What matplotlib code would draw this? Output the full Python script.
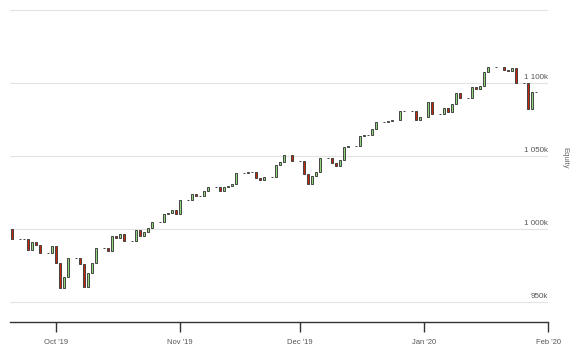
import matplotlib
matplotlib.use("Agg")
import matplotlib.pyplot as plt
import matplotlib.dates as mdates
import pandas as pd

# trading days (saturdays and holidays are missing, sundays are flat)
dates = [
    "2019-09-20", "2019-09-22", "2019-09-23", "2019-09-24", "2019-09-25", "2019-09-26", "2019-09-27",
    "2019-09-29", "2019-09-30", "2019-10-01", "2019-10-02", "2019-10-03", "2019-10-04",
    "2019-10-06", "2019-10-07", "2019-10-08", "2019-10-09", "2019-10-10", "2019-10-11",
    "2019-10-13", "2019-10-14", "2019-10-15", "2019-10-16", "2019-10-17", "2019-10-18",
    "2019-10-20", "2019-10-21", "2019-10-22", "2019-10-23", "2019-10-24", "2019-10-25",
    "2019-10-27", "2019-10-28", "2019-10-29", "2019-10-30", "2019-10-31", "2019-11-01",
    "2019-11-03", "2019-11-04", "2019-11-05", "2019-11-06", "2019-11-07", "2019-11-08",
    "2019-11-10", "2019-11-11", "2019-11-12", "2019-11-13", "2019-11-14", "2019-11-15",
    "2019-11-17", "2019-11-18", "2019-11-19", "2019-11-20", "2019-11-21", "2019-11-22",
    "2019-11-24", "2019-11-25", "2019-11-26", "2019-11-27", "2019-11-29",
    "2019-12-01", "2019-12-02", "2019-12-03", "2019-12-04", "2019-12-05", "2019-12-06",
    "2019-12-08", "2019-12-09", "2019-12-10", "2019-12-11", "2019-12-12", "2019-12-13",
    "2019-12-15", "2019-12-16", "2019-12-17", "2019-12-18", "2019-12-19", "2019-12-20",
    "2019-12-22", "2019-12-23", "2019-12-24", "2019-12-26", "2019-12-27",
    "2019-12-29", "2019-12-30", "2019-12-31", "2020-01-02", "2020-01-03",
    "2020-01-05", "2020-01-06", "2020-01-07", "2020-01-08", "2020-01-09", "2020-01-10",
    "2020-01-12", "2020-01-13", "2020-01-14", "2020-01-15", "2020-01-16", "2020-01-17",
    "2020-01-19", "2020-01-21", "2020-01-22", "2020-01-23", "2020-01-24",
    "2020-01-26", "2020-01-27", "2020-01-28", "2020-01-29",
]

# equity at close, in thousands
first_open = 1000.0
closes = [
    993.2, 993.2, 993.2, 985.6, 991.1, 989.0, 983.6,
    983.6, 988.4, 976.7, 959.6, 967.1, 980.1,
    980.1, 976.0, 960.3, 969.9, 976.7, 987.0,
    987.0, 984.9, 995.2, 993.8, 996.6, 991.8,
    991.8, 999.3, 995.2, 997.9, 1000.7, 1004.8,
    1004.8, 1010.3, 1011.0, 1013.0, 1010.3, 1019.9,
    1019.9, 1024.0, 1022.6, 1022.6, 1026.0, 1028.8,
    1028.8, 1026.0, 1028.8, 1029.5, 1030.8, 1038.4,
    1038.4, 1039.0, 1039.0, 1034.9, 1033.6, 1035.6,
    1035.6, 1043.8, 1045.9, 1050.7, 1046.6,
    1046.6, 1037.7, 1030.8, 1036.3, 1039.0, 1048.6,
    1048.6, 1045.2, 1043.2, 1047.3, 1056.2, 1056.8,
    1056.8, 1063.7, 1064.4, 1064.4, 1068.5, 1073.3,
    1073.3, 1074.0, 1074.7, 1080.8, 1080.8,
    1080.8, 1074.7, 1076.7, 1087.0, 1078.8,
    1078.8, 1082.9, 1080.1, 1085.6, 1093.2, 1089.7,
    1089.7, 1097.3, 1095.9, 1097.9, 1107.5, 1111.0,
    1111.0, 1108.9, 1108.2, 1110.3, 1100.0,
    1100.0, 1082.2, 1093.8, 1093.8,
]

month_ticks = ["2019-10-01", "2019-11-01", "2019-12-01", "2020-01-01", "2020-02-01"]
month_labels = ["Oct '19", "Nov '19", "Dec '19", "Jan '20", "Feb '20"]
y_grid = [950, 1000, 1050, 1100, 1150]
y_labels = ["950k", "1 000k", "1 050k", "1 100k"]

df = pd.DataFrame({"date": pd.to_datetime(dates), "close": closes})
df["open"] = df["close"].shift(1).fillna(first_open)
x = mdates.date2num(df["date"])

colors = []
for o, c in zip(df["open"], df["close"]):
    colors.append("#8fd67c" if c >= o else "#c8280a")

fig = plt.figure(figsize=(5.8, 3.6), dpi=100)
ax = fig.add_axes([10 / 580, 1 - 322 / 360, 538 / 580, 314 / 360])

bottom = df[["open", "close"]].min(axis=1)
height = (df["close"] - df["open"]).abs()
ax.bar(x, height, width=0.7, bottom=bottom, color=colors,
       edgecolor="#3a3a3a", linewidth=0.65, zorder=3)

ax.set_xlim(mdates.date2num(pd.Timestamp("2019-09-19 12:00")),
            mdates.date2num(pd.Timestamp("2020-02-01")))
ax.set_ylim(936.3, 1151.4)

# horizontal grid
ax.set_yticks(y_grid)
ax.set_yticklabels([])
ax.tick_params(axis="y", length=0)
ax.grid(axis="y", color="#e2e2e2", linewidth=0.8, zorder=0)

# y labels sit inside the plot, right aligned above the grid lines
for v, lab in zip(y_grid, y_labels):
    ax.annotate(lab, xy=(1.0, v), xycoords=ax.get_yaxis_transform(),
                xytext=(0, 1.5), textcoords="offset points",
                ha="right", va="bottom", fontsize=5.8, color="#555555",
                family="Liberation Sans")

ax.set_xticks(mdates.date2num(pd.to_datetime(month_ticks)))
ax.set_xticklabels(month_labels, fontsize=5.5, color="#555555",
                   family="Liberation Sans")
ax.tick_params(axis="x", length=7, width=1, color="#333333", pad=5)

for s in ["top", "left", "right"]:
    ax.spines[s].set_visible(False)
ax.spines["bottom"].set_color("#333333")
ax.spines["bottom"].set_linewidth(1)

fig.text(565 / 580, 1 - 158 / 360, "Equity", rotation=270, fontsize=5.5,
         color="#666666", ha="center", va="center", family="Liberation Sans")

fig.savefig("out.png", dpi=100)
